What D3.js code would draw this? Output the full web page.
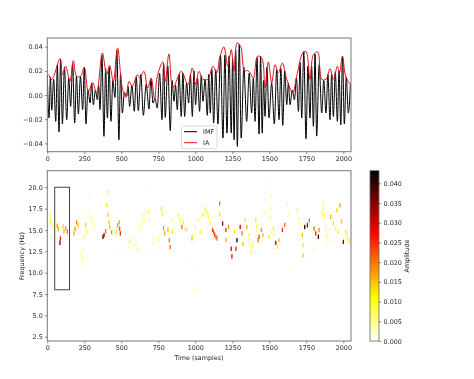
<!DOCTYPE html>
<html>
<head>
<meta charset="utf-8">
<script src="https://cdn.jsdelivr.net/npm/d3@7"></script>
<style>
body { margin: 0; background: #fff; }
svg { filter: blur(0.35px); }
text { font-family: "DejaVu Sans", sans-serif; fill: #262626; }
</style>
</head>
<body>
<div id="chart"></div>
<script>
var xTicks = [0, 250, 500, 750, 1000, 1250, 1500, 1750, 2000];
var imfTicks = [-0.04, -0.02, 0, 0.02, 0.04];
var freqTicks = [2.5, 5, 7.5, 10, 12.5, 15, 17.5, 20];
var ampTicks = [0, 0.005, 0.01, 0.015, 0.02, 0.025, 0.03, 0.035, 0.04];

// IMF turning points
var peakSamples = [0,21,43,68,90,116,145,171,197,224,250,275,300,325,347,369,394,418,443,470,495,521,546,572,601,632,668,
	700,728,759,786,814,843,867,891,916,941,967,991,1015,1040,1066,1091,1112,1138,1170,1200,1228,1252,1273,1297,1328,1364,
	1392,1417,1441,1461,1484,1516,1550,1578,1604,1629,1655,1683,1708,1733,1761,1786,1809,1837,1868,1896,1921,1946,1971,1995,2020,2048];
var peakValues = [.016,.015,.013,.025,.0295,.023,.014,.026,.0155,.0155,.0229,.004,.010,.004,.008,.033,.022,.023,.012,.037,.018,.002,.007,.008,.015,.017,.009,
	.013,-.003,.018,.026,.024,.012,.008,.017,.018,.010,.017,.020,.014,.016,.013,.017,.021,.021,.033,.033,.032,.030,.037,.042,.023,.018,
	.014,.031,.032,.012,.023,.010,.021,.022,.020,.010,.004,.014,.027,.036,.024,.024,.034,.025,.012,.017,.017,.019,.020,.032,.015,.009];
var troughSamples = [12,30,57,79,102,131,158,185,210,239,261,289,311,338,356,383,406,430,457,484,507,536,556,588,615,649,
	687,714,743,775,797,831,856,878,905,928,955,980,1002,1029,1052,1081,1101,1124,1153,1187,1214,1243,1262,1284,1310,1347,
	1381,1404,1431,1452,1471,1498,1534,1566,1591,1618,1640,1670,1697,1719,1748,1775,1798,1820,1854,1883,1910,1933,1960,1983,2007,2034];
var troughValues = [-.019,-.0125,-.0218,-.0306,-.024,-.0204,-.0094,-.0232,-.0157,-.0121,-.024,-.0066,-.008,-.0039,-.0121,-.0342,-.019,-.0218,-.002,-.037,-.0149,-.0011,-.0094,-.0135,-.013,-.0168,
	-.0116,-.0066,-.0108,-.0204,-.0185,-.0295,-.0052,-.0121,-.0177,-.0177,-.0066,-.0177,-.008,-.0135,-.0052,-.0168,-.0149,-.0232,-.024,-.0356,-.0315,-.0315,-.037,-.0426,-.0356,-.0218,
	-.0149,-.0218,-.0323,-.0315,-.0177,-.019,-.024,-.0204,-.0251,-.008,-.008,-.0039,-.0135,-.019,-.0362,-.019,-.0259,-.034,-.0149,-.0149,-.0204,-.0177,-.0218,-.0246,-.024,-.0149];

// instantaneous amplitude
var iaSamples = [0,7,30,86,102,124,153,176,198,225,250,277,307,333,372,401,421,446,475,507,532,552,575,608,626,653,678,
	702,725,743,781,797,822,849,905,950,980,1002,1025,1052,1085,1119,1146,1164,1193,1220,1243,1261,1283,1306,1333,1351,
	1370,1393,1420,1449,1471,1494,1516,1539,1561,1588,1618,1658,1685,1726,1748,1775,1798,1827,1854,1883,1910,1933,1960,1974,1994,2016,2048];
var iaValues = [.016,.0168,.0127,.0301,.0168,.0238,.0113,.0285,.0155,.0155,.0229,.0031,.01,.0012,.0348,.0168,.0246,.0113,.039,.0058,-.0019,.0113,.0072,.0168,.0141,.0196,.0058,
	.0141,-.0039,.0155,.0273,.0113,.034,.006,.0196,.0086,.0224,.0086,.0196,.013,.013,.0238,.0183,.0306,.0398,.0238,.0376,.0196,.0431,.0403,.0196,.0204,
	.0183,.0141,.0321,.0306,.0058,.0273,.01,.0252,.0183,.0265,.013,.002,.0155,.0348,.036,.013,.0334,.0356,.013,.013,.0218,.013,.0238,.0183,.0321,.0155,.0086];

// Hilbert-Huang cells with visible amplitude
var cellTimes = [14,18,25,30,63,70,84,81,102,108,120,131,176,183,194,203,243,255,261,
	221,232,237,237,270,288,300,316,277,372,379,390,406,397,401,412,417,430,462,471,482,484,489,
	552,543,592,604,615,637,649,660,671,453,453,
	680,687,714,707,748,766,775,743,781,788,811,820,826,842,838,883,894,905,916,928,943,973,980,995,1018,1029,1052,1063,1081,1097,1112,1126,1142,
	1160,1160,1180,1202,1220,1202,1238,1243,1270,1261,1277,1299,1311,1317,1333,1344,1367,1374,703,961,995,1000,1010,990,1020,
	1388,1404,1408,1420,1426,1442,1453,1460,1471,1494,1501,1505,1505,1523,1539,1550,1561,1584,1600,1618,1629,
	1685,1697,1703,1719,1724,1724,1735,1753,1766,1798,1809,1827,1832,1854,1861,1877,1892,1910,1928,1944,1951,1974,1983,1960,1996,2012,2023,2034,1787,1775,1651,
	1040,1074,1085,1119,1135,1356,1362,581,566,626,649,1861,1870,1884,1892,2023,2039,1381,1510,1527,1471,1471];
var cellFreqs = [16.7,16.1,15.7,15.4,15.5,15.1,14,13.5,15.4,14.85,15.2,14.8,14.6,15.1,15.9,15.55,14.2,15.6,14.85,
	12.2,11.65,12.6,10.7,17.1,16.5,16,15.4,19,14.2,14.4,14.85,16.8,17.9,19.45,15.9,15.35,14.75,14.85,15.55,15.9,15.15,14.6,
	13.6,13,13.8,12.8,15.15,15.9,16.7,17.1,20.2,12.4,10.1,
	17.1,16.1,14,13.4,14.2,17.5,16.9,13.8,15.2,14.6,15,13.8,13,14.85,16.1,16.7,16.1,15.35,15.9,15.1,15,14,14.4,15.2,16.1,14.8,16.9,17.5,16.7,15.9,15,14.45,14,
	18.1,16.9,15.75,15,15.35,13.8,12.8,11.9,12.8,14.8,13.8,15.35,14.6,13.4,16.1,15.35,13.2,12.4,12.4,11.5,10.3,8.1,8.2,7.9,8,
	13.4,16.1,15.35,13.8,14.2,15,14.4,16.9,20.8,14.2,16.5,19,17.5,15.15,13.5,13,13.8,15,15.6,18.1,16.9,
	17.3,16.3,15.55,14.4,13.2,12,15.35,15.55,16.1,15.15,14.6,14.2,15,16.9,18.1,15.35,13.8,16.5,15.75,15.15,17.3,17.9,16,14.8,13.6,14.8,14,13.6,12.8,11.6,10.5,
	16.7,17.1,16.5,14.8,14.2,14.4,13.8,13.2,13.8,15.35,16.1,17.5,16.7,14.4,14.8,14.4,13.8,13,14.8,14.6,19.5,18.3];
var cellAmps = [.008,.009,.008,.005,.018,.016,.025,.035,.014,.016,.018,.02,.016,.018,.018,.015,.007,.014,.01,
	.004,.005,.004,.003,.003,.005,.005,.004,.002,.04,.03,.02,.014,.012,.008,.014,.015,.018,.013,.018,.016,.022,.025,
	.006,.005,.004,.005,.004,.004,.006,.005,.002,.002,.001,
	.006,.006,.005,.004,.004,.012,.01,.004,.018,.016,.015,.02,.02,.012,.006,.008,.008,.02,.012,.012,.008,.015,.01,.006,.005,.012,.008,.009,.008,.008,.022,.024,.02,
	.02,.012,.035,.024,.018,.016,.03,.028,.025,.012,.043,.03,.02,.015,.012,.016,.006,.008,.002,.002,.002,.002,.002,.002,.002,
	.006,.012,.01,.02,.024,.018,.015,.005,.002,.012,.006,.004,.005,.01,.03,.012,.015,.025,.02,.005,.005,
	.007,.007,.005,.015,.012,.014,.042,.035,.02,.02,.025,.038,.018,.009,.006,.006,.005,.016,.012,.009,.013,.017,.014,.012,.035,.012,.008,.007,.003,.003,.001,
	.007,.008,.007,.022,.022,.008,.007,.006,.006,.004,.005,.008,.008,.006,.006,.008,.008,.008,.006,.008,.002,.002];

var boxSamples = [50, 150];
var boxFreqs = [8, 20];
var ampMax = 0.0432;
var cellDt = 9, cellDf = 0.25;

var width = 474, height = 379;
var left = 47.3, right = 351;
var fontSize = "6.4px";
var svg = d3.select("#chart").append("svg").attr("width", width).attr("height", height);

var x = d3.scaleLinear().domain([0, 2052]).range([left, right]);
var yImf = d3.scaleLinear().domain([-0.0469, 0.0472]).range([151.7, 38]);
var yFreq = d3.scaleLinear().domain([2, 21.94]).range([341, 170.7]);
var color = d3.scaleLinear()
	.domain([0, 0.254 * ampMax, 0.635 * ampMax, ampMax])
	.range(["#ffffff", "#ffff00", "#ff0000", "#000000"]);

function styleAxis(g) {
	g.selectAll("text").style("font-size", fontSize);
	g.selectAll(".tick line").attr("stroke", "#444").attr("stroke-width", 0.6);
	g.select(".domain").remove();
}

function frame(x0, y0, w, h) {
	svg.append("rect").attr("x", x0).attr("y", y0).attr("width", w).attr("height", h)
		.attr("fill", "none").attr("stroke", "#777").attr("stroke-width", 1);
}

// top panel
var imfPoints = peakSamples.map((s, i) => [s, peakValues[i]])
	.concat(troughSamples.map((s, i) => [s, troughValues[i]]))
	.sort((a, b) => a[0] - b[0]);
var iaPoints = iaSamples.map((s, i) => [s, iaValues[i]]);

svg.append("defs").append("clipPath").attr("id", "topClip").append("rect")
	.attr("x", left).attr("y", 38).attr("width", right - left).attr("height", 113.7);

var lineGen = d3.line().x(d => x(d[0])).y(d => yImf(d[1]));
svg.append("path").attr("clip-path", "url(#topClip)")
	.attr("d", lineGen.curve(d3.curveMonotoneX)(imfPoints))
	.attr("fill", "none").attr("stroke", "#000").attr("stroke-width", 1);
svg.append("path").attr("clip-path", "url(#topClip)")
	.attr("d", lineGen.curve(d3.curveCatmullRom)(iaPoints))
	.attr("fill", "none").attr("stroke", "#e0141c").attr("stroke-width", 1);

frame(left, 38, right - left, 113.7);
svg.append("g").attr("transform", "translate(0,151.7)")
	.call(d3.axisBottom(x).tickValues(xTicks).tickSize(2.4).tickPadding(2.2).tickFormat(d3.format("d"))).call(styleAxis);
svg.append("g").attr("transform", "translate(" + left + ",0)")
	.call(d3.axisLeft(yImf).tickValues(imfTicks).tickSize(2.4).tickPadding(2.2).tickFormat(d3.format(".2f"))).call(styleAxis);

// legend
var legend = svg.append("g");
legend.append("rect").attr("x", 181.5).attr("y", 126).attr("width", 35.5).attr("height", 22.7)
	.attr("rx", 1.5).attr("fill", "#fff").attr("fill-opacity", 0.8).attr("stroke", "#ccc").attr("stroke-width", 0.7);
[["IMF", "#000", 131.7], ["IA", "#e0141c", 142.7]].forEach(item => {
	legend.append("line").attr("x1", 184).attr("x2", 197).attr("y1", item[2]).attr("y2", item[2])
		.attr("stroke", item[1]).attr("stroke-width", 1);
	legend.append("text").attr("x", 203).attr("y", item[2] + 2.3).style("font-size", fontSize).text(item[0]);
});

// bottom panel
var cellData = cellTimes.map((t, i) => ({ t: t, f: cellFreqs[i], a: cellAmps[i] }));
svg.selectAll(".cell").data(cellData).enter().append("rect")
	.attr("class", "cell")
	.attr("x", d => x(d.t))
	.attr("y", d => yFreq(d.f + cellDf))
	.attr("width", x(cellDt) - x(0))
	.attr("height", yFreq(0) - yFreq(cellDf * 2))
	.attr("fill", d => color(d.a));

svg.append("rect")
	.attr("x", x(boxSamples[0])).attr("y", yFreq(boxFreqs[1]))
	.attr("width", x(boxSamples[1]) - x(boxSamples[0]))
	.attr("height", yFreq(boxFreqs[0]) - yFreq(boxFreqs[1]))
	.attr("fill", "none").attr("stroke", "#444").attr("stroke-width", 1);

frame(left, 170.7, right - left, 170.3);
svg.append("g").attr("transform", "translate(0,341)")
	.call(d3.axisBottom(x).tickValues(xTicks).tickSize(2.4).tickPadding(2.2).tickFormat(d3.format("d"))).call(styleAxis);
svg.append("g").attr("transform", "translate(" + left + ",0)")
	.call(d3.axisLeft(yFreq).tickValues(freqTicks).tickSize(2.4).tickPadding(2.2).tickFormat(d3.format(".1f"))).call(styleAxis);

svg.append("text").attr("x", 199).attr("y", 360).attr("text-anchor", "middle")
	.style("font-size", fontSize).text("Time (samples)");
svg.append("text").attr("transform", "translate(24,256) rotate(-90)").attr("text-anchor", "middle")
	.style("font-size", fontSize).text("Frequency (Hz)");

// colorbar
var yAmp = d3.scaleLinear().domain([0, ampMax]).range([341, 170.7]);
var grad = svg.select("defs").append("linearGradient").attr("id", "ampGrad")
	.attr("x1", 0).attr("x2", 0).attr("y1", 1).attr("y2", 0);
color.domain().forEach(v => {
	grad.append("stop").attr("offset", v / ampMax).attr("stop-color", color(v));
});
svg.append("rect").attr("x", 370).attr("y", 170.7).attr("width", 9).attr("height", 170.3)
	.attr("fill", "url(#ampGrad)").attr("stroke", "#666").attr("stroke-width", 0.8);
svg.append("g").attr("transform", "translate(379,0)")
	.call(d3.axisRight(yAmp).tickValues(ampTicks).tickSize(2.4).tickPadding(2.2).tickFormat(d3.format(".3f"))).call(styleAxis);
svg.append("text").attr("transform", "translate(409,256) rotate(-90)").attr("text-anchor", "middle")
	.style("font-size", fontSize).text("Amplitude");
</script>
</body>
</html>
